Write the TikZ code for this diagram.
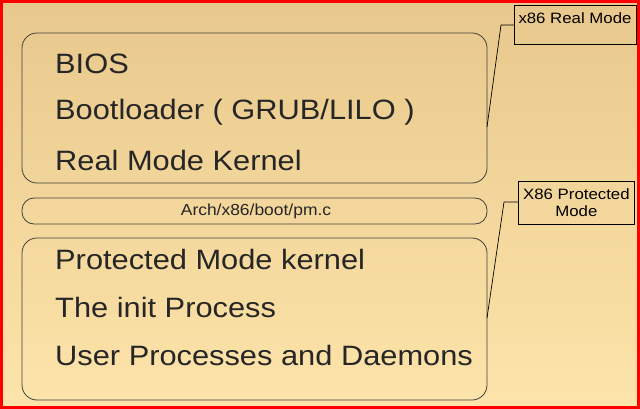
\documentclass[tikz,border=0pt]{standalone}
\usepackage{fontspec}
\usepackage{graphicx}
\setmainfont{Liberation Sans}
\newcommand{\hs}[2]{\scalebox{#1}[1]{#2}}
\begin{document}
\begin{tikzpicture}[x=1pt,y=-1pt,
  grp/.style={draw=black!75,line width=0.8pt,rounded corners=15pt},
  big/.style={anchor=west,font=\fontsize{28}{32}\selectfont,text=black!85,inner sep=0pt},
  call/.style={draw=black,line width=0.8pt,font=\fontsize{15}{17}\selectfont,align=center,inner sep=2pt},
  lead/.style={draw=black,line width=0.7pt}]
\shade[top color={rgb,255:red,232;green,200;blue,140},bottom color={rgb,255:red,253;green,228;blue,170}] (0,0) rectangle (640,409);
\draw[red,line width=3pt] (1.5,1.5) rectangle (638.5,407.5);
\useasboundingbox (0,0) rectangle (640,409);
\draw[grp] (22,33) rectangle (487,183);
\draw[grp,rounded corners=12pt] (22,198) rectangle (487,224);
\draw[grp] (22,238) rectangle (487,400);
\node[big] (bios) at (55,64) {\hs{1.1}{BIOS}};
\node[big] (boot) at (55,112) {\hs{1.1}{Bootloader ( GRUB/LILO )}};
\node[big] (rmk) at (55,160) {\hs{1.1}{Real Mode Kernel}};
\node[font=\fontsize{16}{18}\selectfont,text=black!85] (pm) at (256,211) {\hs{1.09}{Arch/x86/boot/pm.c}};
\node[big] (pmk) at (55,259) {\hs{1.1}{Protected Mode kernel}};
\node[big] (init) at (55,307) {\hs{1.1}{The init Process}};
\node[big] (user) at (55,355) {\hs{1.1}{User Processes and Daemons}};
\node[call,minimum width=122pt,minimum height=39pt,anchor=north west] (c1) at (514,5) {};
\node[font=\fontsize{15}{17}\selectfont,anchor=center] at (575,18) {\hs{1.12}{x86 Real Mode}};
\node[call,minimum width=116pt,minimum height=43pt,anchor=north west] (c2) at (518,181) {\hs{1.12}{X86 Protected}\\\hs{1.12}{Mode}};
\coordinate (k1) at (501,25);
\coordinate (e1) at (487,127);
\coordinate (k2) at (504,202);
\coordinate (e2) at (487,318);
\draw[lead] (c1.west |- k1) -- (k1) -- (e1);
\draw[lead] (c2.west |- k2) -- (k2) -- (e2);
\end{tikzpicture}
\end{document}
